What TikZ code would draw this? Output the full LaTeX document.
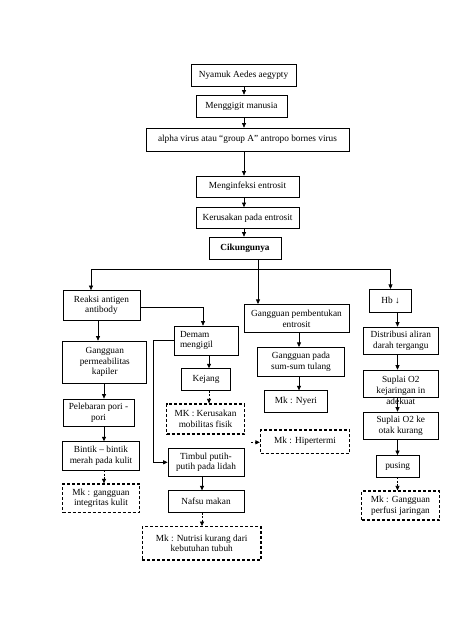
\documentclass[tikz,border=0pt]{standalone}
\usepackage{fontspec}
\setmainfont{Liberation Serif}
\usetikzlibrary{arrows.meta}
\begin{document}
\begin{tikzpicture}[x=1pt,y=-1pt,
  txt/.style={inner sep=0pt, align=center, font=\fontsize{9.3}{10.8}\selectfont},
  box/.style={txt, draw, line width=0.7pt},
  dbox/.style={box, line width=1.2pt, dash pattern=on 3pt off 2pt},
  ln/.style={line width=0.7pt},
  arr/.style={ln, -{Triangle[length=4.5pt,width=4pt]}},
  darr/.style={arr, dash pattern=on 2pt off 1.5pt},
  ]
\fill[white] (0,0) rectangle (474,632);
\useasboundingbox (0,0) rectangle (474,632);

% top chain
\node[box, minimum width=105, minimum height=22] (nyamuk) at (243.5,75) {Nyamuk Aedes aegypty};
\node[box, minimum width=91, minimum height=22] (menggigit) at (241.5,106) {Menggigit manusia};
\node[box, minimum width=203, minimum height=23] (alpha) at (247.5,139.5) {alpha virus atau “group A” antropo bornes virus};
\node[box, minimum width=103, minimum height=21] (menginfeksi) at (247.5,186.5) {Menginfeksi entrosit};
\node[box, minimum width=103, minimum height=21] (kerusakan) at (247.5,218) {Kerusakan pada entrosit};
\node[box, minimum width=72, minimum height=22, font=\fontsize{9.3}{10.8}\selectfont\bfseries] (cik) at (245,248) {Cikungunya};

% left column
\node[box, minimum width=77, minimum height=29.5] (reaksi) at (101.5,305.2) {Reaksi antigen\\antibody};
\node[box, minimum width=84, minimum height=42] (perm) at (104.8,362) {Gangguan\\permeabilitas\\kapiler};
\node[box, minimum width=71, minimum height=27.7] (pel) at (98.5,412.8) {Pelebaran pori -\\pori};
\node[box, minimum width=76.6, minimum height=28.3] (bintik) at (101,455.8) {Bintik – bintik\\merah pada kulit};
\node[dbox, minimum width=76.6, minimum height=28.7] (mkkulit) at (101,498.3) {Mk : gangguan\\integritas kulit};

% second column
\node[box, align=left, text width=52, inner xsep=6, minimum height=29] (demam) at (206,340.5) {Demam\\mengigil};
\node[box, minimum width=49.5, minimum height=22] (kejang) at (206,379.6) {Kejang};
\node[dbox, minimum width=77.6, minimum height=30] (mkmob) at (205.5,419) {MK : Kerusakan\\mobilitas fisik};
\node[box, minimum width=76, minimum height=28.7] (timbul) at (206,462.3) {Timbul putih-\\putih pada lidah};
\node[box, minimum width=76, minimum height=21.6] (nafsu) at (206,501.5) {Nafsu makan};
\node[dbox, minimum width=118.7, minimum height=33.3] (mknut) at (201.7,543.3) {Mk : Nutrisi kurang dari\\kebutuhan tubuh};

% centre column
\node[box, minimum width=105, minimum height=28.4] (gp) at (296.5,318.5) {Gangguan pembentukan\\entrosit};
\node[box, minimum width=86.6, minimum height=29.4] (gsum) at (301,362) {Gangguan pada\\sum-sum tulang};
\node[box, minimum width=63.4, minimum height=21.6] (nyeri) at (296,401.5) {Mk : Nyeri};
\node[dbox, minimum width=89, minimum height=23.3] (hiper) at (305,441.7) {Mk : Hipertermi};

% right column
\node[box, minimum width=42.4, minimum height=23] (hb) at (390.5,300.8) {Hb ↓};
\node[box, minimum width=75.7, minimum height=27] (distr) at (400.8,340.5) {Distribusi aliran\\darah tergangu};
\node[box, minimum width=75.7, minimum height=27.5] (sup1) at (400.8,383.8) {};
\node[txt] (sup1t) at (400.8,390.3) {Suplai O2\\kejaringan in\\adekuat};
\node[box, minimum width=75.7, minimum height=27] (sup2) at (400.8,425.5) {Suplai O2 ke\\otak kurang};
\node[box, minimum width=42.5, minimum height=21.5] (pusing) at (397.7,466.2) {pusing};
\node[dbox, minimum width=77.5, minimum height=29] (mkperf) at (400.5,505.5) {Mk : Gangguan\\perfusi jaringan};

% helper coordinates
\coordinate (colT) at (244,0);
\coordinate (br) at (258,269);
\coordinate (brL) at (91,269);
\coordinate (brR) at (390.5,269);
\coordinate (c98) at (98,0);
\coordinate (colL) at (104,0);
\coordinate (rd) at (203,0);
\coordinate (colM) at (209,0);
\coordinate (colN) at (202,0);
\coordinate (colC) at (299,0);
\coordinate (colR) at (397.5,0);
\coordinate (hstub) at (251,442.3);

% top chain arrows
\draw[arr] (nyamuk.south -| colT) -- (menggigit.north -| colT);
\draw[arr] (menggigit.south -| colT) -- (alpha.north -| colT);
\draw[arr] (alpha.south -| colT) -- (menginfeksi.north -| colT);
\draw[arr] (menginfeksi.south -| colT) -- (kerusakan.north -| colT);
\draw[arr] (kerusakan.south -| colT) -- (cik.north -| colT);

% branching
\draw[ln] (cik.south -| br) -- (br);
\draw[ln] (brL) -- (brR);
\draw[arr] (brL) -- (brL |- reaksi.north);
\draw[arr] (brR) -- (hb.north);
\draw[arr] (br) -- (br |- gp.north);

% left column arrows
\draw[arr] (reaksi.south -| c98) -- (perm.north -| c98);
\draw[arr] (perm.south -| colL) -- (pel.north -| colL);
\draw[arr] (pel.south -| colL) -- (bintik.north -| colL);
\draw[darr] (bintik.south -| colL) -- (mkkulit.north -| colL);

% second column arrows
\draw[arr] ([yshift=-2.5pt]reaksi.east) -| (demam.north -| rd);
\draw[arr] (demam.south -| colM) -- (kejang.north -| colM);
\draw[darr] (kejang.south -| colM) -- (mkmob.north -| colM);
\draw[arr] (demam.west) -- ++(-20,0) |- (timbul.west);
\draw[arr] (timbul.south -| colN) -- (nafsu.north -| colN);
\draw[darr] (nafsu.south -| colN) -- (mknut.north -| colN);

% centre column arrows
\draw[arr] (gp.south -| colC) -- (gsum.north -| colC);
\draw[arr] (gsum.south -| colC) -- (nyeri.north -| colC);
\draw[darr] (hstub) -- (hstub -| hiper.west);

% right column arrows
\draw[arr] (hb.south -| colR) -- (distr.north -| colR);
\draw[arr] (distr.south -| colR) -- (sup1.north -| colR);
\draw[arr] (sup1.south -| colR) -- (sup2.north -| colR);
\draw[arr] (sup2.south -| colR) -- (pusing.north -| colR);
\draw[darr] (pusing.south -| colR) -- (mkperf.north -| colR);
\end{tikzpicture}
\end{document}
